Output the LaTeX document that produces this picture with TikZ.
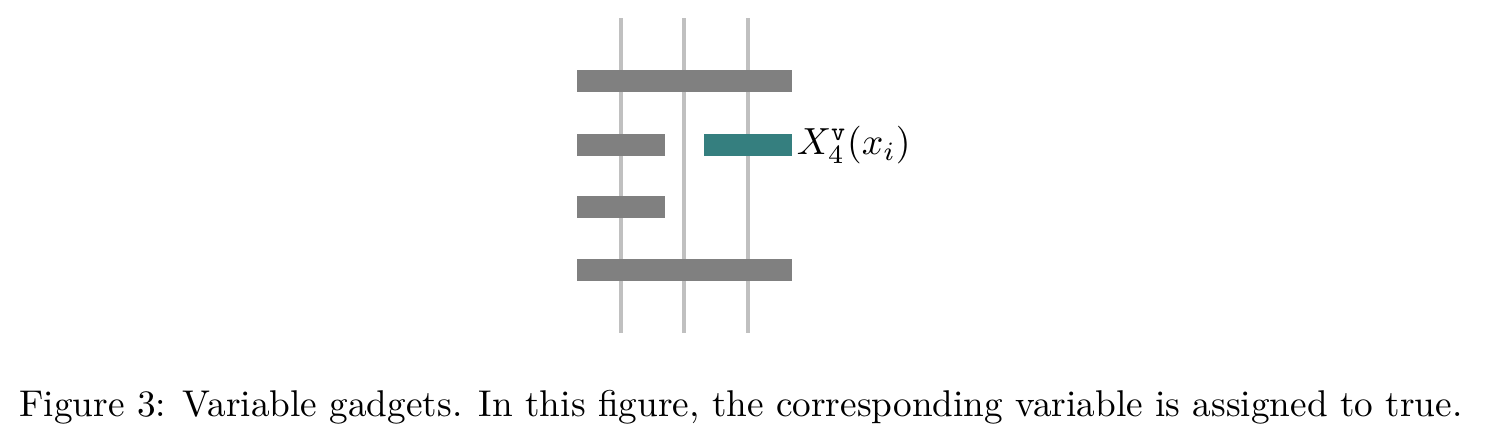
\documentclass[tikz,border=0pt]{standalone}
\usepackage{amsmath,amssymb}
\usetikzlibrary{positioning}
\definecolor{gadgetgray}{HTML}{808080}
\definecolor{wiregray}{HTML}{C0C0C0}
\definecolor{gadgetteal}{HTML}{357F7F}
\begin{document}
\begin{tikzpicture}[
	x=0.02cm, y=-0.02cm,
	wire/.style = {wiregray, line width=0.08cm},
	bar/.style = {
		fill=gadgetgray,
		inner sep=0pt,
		minimum height=0.44cm,
	},
	longbar/.style = {bar, minimum width=4.3cm},
	shortbar/.style = {bar, minimum width=1.76cm},
]
\useasboundingbox (0,0) rectangle (1486,440);

% wires
\foreach \x [count=\i] in {621,684,748} {
	\coordinate (top\i) at (\x,18);
	\coordinate (bot\i) at (\x,333);
	\draw[wire] (top\i) -- (bot\i);
}

% bars
\node [longbar] (row1) at (684.5,81) {};
\node [shortbar] (row2a) at (621,145) {};
\node [shortbar, fill=gadgetteal] (row2b) at (748,145) {};
\node [shortbar] (row3) at (621,207) {};
\node [longbar] (row4) at (684.5,270) {};

% label
\node [right=0pt of row2b, inner sep=1pt, scale=2.15] (lab) {$X_4^{\mathtt{v}}(x_i)$};

% caption
\node [scale=2.12] (cap) at (741,407) {Figure 3: Variable gadgets. In this figure, the corresponding variable is assigned to true.};
\end{tikzpicture}
\end{document}
